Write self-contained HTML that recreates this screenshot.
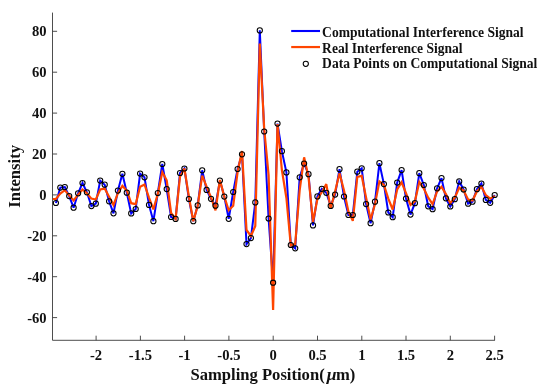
<!DOCTYPE html>
<html><head><meta charset="utf-8"><title>Interference Signal</title>
<style>
html,body{margin:0;padding:0;background:#fff;}
body{width:550px;height:392px;overflow:hidden;}
svg{display:block;font-family:"Liberation Serif","DejaVu Serif",serif;font-weight:bold;fill:#111;}
</style></head><body>
<svg width="550" height="392" viewBox="0 0 550 392">
<rect width="550" height="392" fill="#fff"/>
<g stroke="#3a3a3a" stroke-width="0.9" fill="none">
<path d="M52.5 12.6V340.3H494.9"/>
<line x1="52.5" x2="57.1" y1="317.6" y2="317.6"/><line x1="52.5" x2="57.1" y1="276.7" y2="276.7"/><line x1="52.5" x2="57.1" y1="235.8" y2="235.8"/><line x1="52.5" x2="57.1" y1="194.9" y2="194.9"/><line x1="52.5" x2="57.1" y1="154.0" y2="154.0"/><line x1="52.5" x2="57.1" y1="113.1" y2="113.1"/><line x1="52.5" x2="57.1" y1="72.2" y2="72.2"/><line x1="52.5" x2="57.1" y1="31.3" y2="31.3"/><line y1="340.3" y2="335.7" x1="96.1" x2="96.1"/><line y1="340.3" y2="335.7" x1="140.4" x2="140.4"/><line y1="340.3" y2="335.7" x1="184.6" x2="184.6"/><line y1="340.3" y2="335.7" x1="228.9" x2="228.9"/><line y1="340.3" y2="335.7" x1="273.2" x2="273.2"/><line y1="340.3" y2="335.7" x1="317.5" x2="317.5"/><line y1="340.3" y2="335.7" x1="361.8" x2="361.8"/><line y1="340.3" y2="335.7" x1="406.0" x2="406.0"/><line y1="340.3" y2="335.7" x1="450.3" x2="450.3"/><line y1="340.3" y2="335.7" x1="494.6" x2="494.6"/>
</g>
<g font-size="14.6px"><text x="46.6" y="322.7" text-anchor="end">-60</text><text x="46.6" y="281.8" text-anchor="end">-40</text><text x="46.6" y="240.9" text-anchor="end">-20</text><text x="46.6" y="200.0" text-anchor="end">0</text><text x="46.6" y="159.1" text-anchor="end">20</text><text x="46.6" y="118.2" text-anchor="end">40</text><text x="46.6" y="77.3" text-anchor="end">60</text><text x="46.6" y="36.4" text-anchor="end">80</text><text x="96.1" y="360" text-anchor="middle">-2</text><text x="140.4" y="360" text-anchor="middle">-1.5</text><text x="184.6" y="360" text-anchor="middle">-1</text><text x="228.9" y="360" text-anchor="middle">-0.5</text><text x="273.2" y="360" text-anchor="middle">0</text><text x="317.5" y="360" text-anchor="middle">0.5</text><text x="361.8" y="360" text-anchor="middle">1</text><text x="406.0" y="360" text-anchor="middle">1.5</text><text x="450.3" y="360" text-anchor="middle">2</text><text x="494.6" y="360" text-anchor="middle">2.5</text></g>
<text font-size="16.6px" transform="translate(20.1,176.4) rotate(-90)" text-anchor="middle">Intensity</text>
<text font-size="16.6px" x="190.5" y="380.2">Sampling Position(</text>
<text font-size="16.6px" font-style="italic" transform="translate(326.8,380.2) scale(1.06,1)">μ</text>
<text font-size="16.6px" x="336.05" y="380.2">m)</text>
<polyline points="55.9,203.0 60.3,187.6 64.8,187.1 69.2,196.1 73.6,207.7 78.1,193.3 82.5,183.0 86.9,192.3 91.4,206.1 95.8,203.7 100.2,180.6 104.7,184.7 109.1,201.3 113.5,213.3 117.9,190.6 122.4,173.8 126.8,192.7 131.2,213.4 135.7,209.0 140.1,173.6 144.5,177.3 149.0,204.9 153.4,221.2 157.8,193.0 162.3,164.0 166.7,189.1 171.1,217.0 175.6,218.9 180.0,173.0 184.4,168.5 188.9,199.0 193.3,221.2 197.7,205.4 202.2,170.3 206.6,189.9 211.0,198.8 215.5,205.7 219.9,180.6 224.3,196.6 228.7,218.8 233.2,192.0 237.6,169.0 242.0,154.3 246.5,244.1 250.9,238.1 255.3,202.4 259.8,30.4 264.2,131.5 268.6,218.5 273.1,282.7 277.5,123.6 281.9,151.2 286.4,172.4 290.8,245.0 295.2,248.3 299.7,177.3 304.1,163.6 308.5,174.2 313.0,225.4 317.4,196.4 321.8,188.8 326.3,192.8 330.7,205.9 335.1,194.6 339.5,169.2 344.0,196.5 348.4,215.0 352.8,215.0 357.3,171.7 361.7,168.3 366.1,204.1 370.6,223.2 375.0,201.7 379.4,163.2 383.9,184.1 388.3,212.5 392.7,217.2 397.2,182.6 401.6,170.1 406.0,198.6 410.5,214.6 414.9,203.2 419.3,173.2 423.8,185.0 428.2,206.3 432.6,209.2 437.1,188.3 441.5,178.1 445.9,198.3 450.3,206.5 454.8,199.2 459.2,181.4 463.6,189.5 468.1,203.7 472.5,201.7 476.9,189.2 481.4,183.5 485.8,199.9 490.2,202.8 494.7,195.0" fill="none" stroke="#0000ff" stroke-width="2" stroke-linejoin="miter" stroke-miterlimit="3"/>
<polyline points="52.8,199.0 55.9,199.0 60.3,193.5 64.8,190.2 69.2,195.4 73.6,200.5 78.1,194.6 82.5,189.5 86.9,193.2 91.4,198.6 95.8,199.5 100.2,189.5 104.7,188.6 109.1,196.8 113.5,205.0 117.9,193.2 122.4,185.9 126.8,190.5 131.2,203.2 135.7,204.1 140.1,186.8 144.5,184.5 149.0,197.6 153.4,209.4 157.8,193.9 162.3,172.1 166.7,180.3 171.1,213.0 175.6,218.8 180.0,176.6 184.4,168.5 188.9,196.6 193.3,221.2 197.7,205.7 202.2,175.7 206.6,186.6 211.0,197.5 215.5,210.3 219.9,180.0 224.3,196.6 228.7,210.3 233.2,205.7 237.6,172.0 242.0,151.0 246.5,230.0 250.9,236.0 255.3,226.0 259.8,43.6 264.2,129.0 268.6,175.0 273.1,310.0 277.5,124.0 281.9,170.0 286.4,198.0 290.8,245.5 295.2,244.0 299.7,190.0 304.1,157.3 308.5,177.0 313.0,222.0 317.4,199.0 321.8,192.3 326.3,184.1 330.7,208.6 335.1,191.4 339.5,173.2 344.0,190.5 348.4,211.4 352.8,220.8 357.3,176.8 361.7,175.9 366.1,197.7 370.6,219.5 375.0,204.1 379.4,181.4 383.9,185.0 388.3,198.6 392.7,209.5 397.2,189.5 401.6,182.3 406.0,193.2 410.5,205.0 414.9,201.4 419.3,182.0 423.8,188.6 428.2,197.7 432.6,204.1 437.1,191.4 441.5,186.8 445.9,194.1 450.3,203.2 454.8,197.7 459.2,187.7 463.6,190.5 468.1,199.5 472.5,200.5 476.9,191.4 481.4,186.8 485.8,195.0 490.2,198.6 494.7,195.9" fill="none" stroke="#ff4500" stroke-width="2.2" stroke-linejoin="miter" stroke-miterlimit="3"/>
<g fill="none" stroke="#000" stroke-width="1.05"><circle cx="55.9" cy="203.0" r="2.6"/><circle cx="60.3" cy="187.6" r="2.6"/><circle cx="64.8" cy="187.1" r="2.6"/><circle cx="69.2" cy="196.1" r="2.6"/><circle cx="73.6" cy="207.7" r="2.6"/><circle cx="78.1" cy="193.3" r="2.6"/><circle cx="82.5" cy="183.0" r="2.6"/><circle cx="86.9" cy="192.3" r="2.6"/><circle cx="91.4" cy="206.1" r="2.6"/><circle cx="95.8" cy="203.7" r="2.6"/><circle cx="100.2" cy="180.6" r="2.6"/><circle cx="104.7" cy="184.7" r="2.6"/><circle cx="109.1" cy="201.3" r="2.6"/><circle cx="113.5" cy="213.3" r="2.6"/><circle cx="117.9" cy="190.6" r="2.6"/><circle cx="122.4" cy="173.8" r="2.6"/><circle cx="126.8" cy="192.7" r="2.6"/><circle cx="131.2" cy="213.4" r="2.6"/><circle cx="135.7" cy="209.0" r="2.6"/><circle cx="140.1" cy="173.6" r="2.6"/><circle cx="144.5" cy="177.3" r="2.6"/><circle cx="149.0" cy="204.9" r="2.6"/><circle cx="153.4" cy="221.2" r="2.6"/><circle cx="157.8" cy="193.0" r="2.6"/><circle cx="162.3" cy="164.0" r="2.6"/><circle cx="166.7" cy="189.1" r="2.6"/><circle cx="171.1" cy="217.0" r="2.6"/><circle cx="175.6" cy="218.9" r="2.6"/><circle cx="180.0" cy="173.0" r="2.6"/><circle cx="184.4" cy="168.5" r="2.6"/><circle cx="188.9" cy="199.0" r="2.6"/><circle cx="193.3" cy="221.2" r="2.6"/><circle cx="197.7" cy="205.4" r="2.6"/><circle cx="202.2" cy="170.3" r="2.6"/><circle cx="206.6" cy="189.9" r="2.6"/><circle cx="211.0" cy="198.8" r="2.6"/><circle cx="215.5" cy="205.7" r="2.6"/><circle cx="219.9" cy="180.6" r="2.6"/><circle cx="224.3" cy="196.6" r="2.6"/><circle cx="228.7" cy="218.8" r="2.6"/><circle cx="233.2" cy="192.0" r="2.6"/><circle cx="237.6" cy="169.0" r="2.6"/><circle cx="242.0" cy="154.3" r="2.6"/><circle cx="246.5" cy="244.1" r="2.6"/><circle cx="250.9" cy="238.1" r="2.6"/><circle cx="255.3" cy="202.4" r="2.6"/><circle cx="259.8" cy="30.4" r="2.6"/><circle cx="264.2" cy="131.5" r="2.6"/><circle cx="268.6" cy="218.5" r="2.6"/><circle cx="273.1" cy="282.7" r="2.6"/><circle cx="277.5" cy="123.6" r="2.6"/><circle cx="281.9" cy="151.2" r="2.6"/><circle cx="286.4" cy="172.4" r="2.6"/><circle cx="290.8" cy="245.0" r="2.6"/><circle cx="295.2" cy="248.3" r="2.6"/><circle cx="299.7" cy="177.3" r="2.6"/><circle cx="304.1" cy="163.6" r="2.6"/><circle cx="308.5" cy="174.2" r="2.6"/><circle cx="313.0" cy="225.4" r="2.6"/><circle cx="317.4" cy="196.4" r="2.6"/><circle cx="321.8" cy="188.8" r="2.6"/><circle cx="326.3" cy="192.8" r="2.6"/><circle cx="330.7" cy="205.9" r="2.6"/><circle cx="335.1" cy="194.6" r="2.6"/><circle cx="339.5" cy="169.2" r="2.6"/><circle cx="344.0" cy="196.5" r="2.6"/><circle cx="348.4" cy="215.0" r="2.6"/><circle cx="352.8" cy="215.0" r="2.6"/><circle cx="357.3" cy="171.7" r="2.6"/><circle cx="361.7" cy="168.3" r="2.6"/><circle cx="366.1" cy="204.1" r="2.6"/><circle cx="370.6" cy="223.2" r="2.6"/><circle cx="375.0" cy="201.7" r="2.6"/><circle cx="379.4" cy="163.2" r="2.6"/><circle cx="383.9" cy="184.1" r="2.6"/><circle cx="388.3" cy="212.5" r="2.6"/><circle cx="392.7" cy="217.2" r="2.6"/><circle cx="397.2" cy="182.6" r="2.6"/><circle cx="401.6" cy="170.1" r="2.6"/><circle cx="406.0" cy="198.6" r="2.6"/><circle cx="410.5" cy="214.6" r="2.6"/><circle cx="414.9" cy="203.2" r="2.6"/><circle cx="419.3" cy="173.2" r="2.6"/><circle cx="423.8" cy="185.0" r="2.6"/><circle cx="428.2" cy="206.3" r="2.6"/><circle cx="432.6" cy="209.2" r="2.6"/><circle cx="437.1" cy="188.3" r="2.6"/><circle cx="441.5" cy="178.1" r="2.6"/><circle cx="445.9" cy="198.3" r="2.6"/><circle cx="450.3" cy="206.5" r="2.6"/><circle cx="454.8" cy="199.2" r="2.6"/><circle cx="459.2" cy="181.4" r="2.6"/><circle cx="463.6" cy="189.5" r="2.6"/><circle cx="468.1" cy="203.7" r="2.6"/><circle cx="472.5" cy="201.7" r="2.6"/><circle cx="476.9" cy="189.2" r="2.6"/><circle cx="481.4" cy="183.5" r="2.6"/><circle cx="485.8" cy="199.9" r="2.6"/><circle cx="490.2" cy="202.8" r="2.6"/><circle cx="494.7" cy="195.0" r="2.6"/></g>
<line x1="291.2" x2="320" y1="31" y2="31" stroke="#0000ff" stroke-width="2.1"/>
<line x1="291.2" x2="320" y1="47.05" y2="47.05" stroke="#ff4500" stroke-width="2.2"/>
<circle cx="305.8" cy="63.8" r="2.6" fill="none" stroke="#000" stroke-width="1.05"/>
<g font-size="13.55px">
<text x="322.1" y="36.6">Computational Interference Signal</text>
<text x="322.1" y="52.6">Real Interference Signal</text>
<text x="322.1" y="68.4">Data Points on Computational Signal</text>
</g>
</svg>
</body></html>
